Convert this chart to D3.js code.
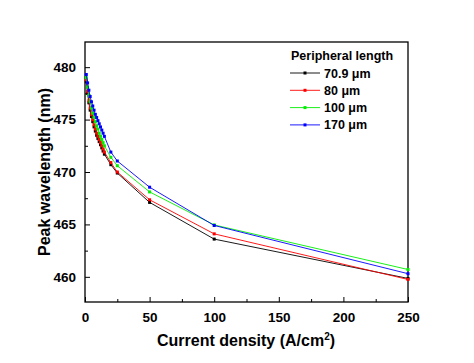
<!DOCTYPE html>
<html>
<head>
<meta charset="utf-8">
<script src="https://cdn.jsdelivr.net/npm/d3@7"></script>
<style>
  body { margin: 0; background: #fff; }
  svg text { font-family: "Liberation Sans", Arial, sans-serif; font-weight: bold; fill: #000; }
</style>
</head>
<body>
<svg id="chart" width="474" height="363"></svg>
<script>
// current density (A/cm2)
var current = [1, 2, 3, 4, 5, 6, 7, 8, 9, 10, 11, 12, 13, 14, 15, 20, 25, 50, 100, 250];

// peak wavelength (nm) per peripheral length
var w709 = [478.6, 477.5, 476.6, 475.9, 475.3, 474.8, 474.3, 473.9, 473.5, 473.2, 472.9, 472.6, 472.3, 472.0, 471.7, 470.7, 469.9, 467.1, 463.6, 459.85];
var w80  = [478.8, 477.7, 476.8, 476.1, 475.5, 475.0, 474.5, 474.1, 473.7, 473.4, 473.1, 472.8, 472.5, 472.2, 471.9, 470.9, 470.0, 467.35, 464.1, 459.75];
var w100 = [479.0, 478.1, 477.3, 476.7, 476.1, 475.6, 475.2, 474.8, 474.4, 474.1, 473.7, 473.4, 473.1, 472.8, 472.5, 471.4, 470.6, 468.1, 464.95, 460.7];
var w170 = [479.3, 478.5, 477.8, 477.2, 476.7, 476.3, 475.9, 475.5, 475.2, 474.9, 474.6, 474.3, 474.0, 473.7, 473.4, 471.9, 471.05, 468.55, 464.9, 460.3];

var labels = ["70.9 \u03bcm", "80 \u03bcm", "100 \u03bcm", "170 \u03bcm"];
var colors = ["#000000", "#ff0000", "#00ee00", "#0000ff"];
var series = [w709, w80, w100, w170];

var xTicks = [0, 50, 100, 150, 200, 250];
var yTicks = [460, 465, 470, 475, 480];

var svg = d3.select("#chart");
var pLeft = 85, pRight = 408, pTop = 42, pBottom = 302;

var x = d3.scaleLinear().domain([0, 250]).range([pLeft, pRight]);
var y = d3.scaleLinear().domain([457.6, 482.4]).range([pBottom, pTop]);

// frame
svg.append("rect")
    .attr("x", pLeft).attr("y", pTop)
    .attr("width", pRight - pLeft).attr("height", pBottom - pTop)
    .attr("fill", "none").attr("stroke", "#000").attr("stroke-width", 1.3);

// x axis: inward ticks, minor ticks between
var xAxis = d3.axisBottom(x).tickValues(xTicks).tickSizeInner(-5).tickSizeOuter(0).tickPadding(10);
var gx = svg.append("g").attr("transform", "translate(0," + pBottom + ")").call(xAxis);
gx.select(".domain").remove();
gx.selectAll("text").style("font-size", "13.5px");
svg.append("g").attr("transform", "translate(0," + pBottom + ")")
    .call(d3.axisBottom(x).tickValues([25, 75, 125, 175, 225]).tickSizeInner(-3).tickSizeOuter(0).tickFormat(""))
    .select(".domain").remove();

var yAxis = d3.axisLeft(y).tickValues(yTicks).tickSizeInner(-5).tickSizeOuter(0).tickPadding(9);
var gy = svg.append("g").attr("transform", "translate(" + pLeft + ",0)").call(yAxis);
gy.select(".domain").remove();
gy.selectAll("text").style("font-size", "13.5px");
svg.append("g").attr("transform", "translate(" + pLeft + ",0)")
    .call(d3.axisLeft(y).tickValues([462.5, 467.5, 472.5, 477.5]).tickSizeInner(-3).tickSizeOuter(0).tickFormat(""))
    .select(".domain").remove();

// axis titles
var xt = svg.append("text")
    .attr("x", 246).attr("y", 346)
    .attr("text-anchor", "middle")
    .style("font-size", "16px")
    .text("Current density (A/cm");
xt.append("tspan").attr("dy", -6).style("font-size", "10px").text("2");
xt.append("tspan").attr("dy", 6).text(")");

svg.append("text")
    .attr("transform", "translate(50,172) rotate(-90)")
    .attr("text-anchor", "middle")
    .style("font-size", "16px")
    .text("Peak wavelength (nm)");

// lines and markers
var line = d3.line()
    .x(function(d, i){ return x(current[i]); })
    .y(function(d){ return y(d); });

series.forEach(function(s, k){
    svg.append("path")
	.datum(s)
	.attr("d", line)
	.attr("fill", "none")
	.attr("stroke", colors[k])
	.attr("stroke-width", 0.9);
    svg.append("g").selectAll("rect")
	.data(s)
	.join("rect")
	.attr("x", function(d, i){ return x(current[i]) - 1.5; })
	.attr("y", function(d){ return y(d) - 1.5; })
	.attr("width", 3).attr("height", 3)
	.attr("fill", colors[k]);
});

// legend
var lg = svg.append("g");
lg.append("text")
    .attr("x", 291).attr("y", 60)
    .style("font-size", "12.5px")
    .text("Peripheral length");

labels.forEach(function(l, k){
    var ly = 73 + k * 17.3;
    lg.append("line")
	.attr("x1", 290).attr("x2", 320)
	.attr("y1", ly).attr("y2", ly)
	.attr("stroke", colors[k]).attr("stroke-width", 0.9);
    lg.append("rect")
	.attr("x", 303.5).attr("y", ly - 1.5)
	.attr("width", 3).attr("height", 3)
	.attr("fill", colors[k]);
    lg.append("text")
	.attr("x", 324).attr("y", ly + 4.5)
	.style("font-size", "12.5px")
	.text(l);
});
</script>
</body>
</html>
